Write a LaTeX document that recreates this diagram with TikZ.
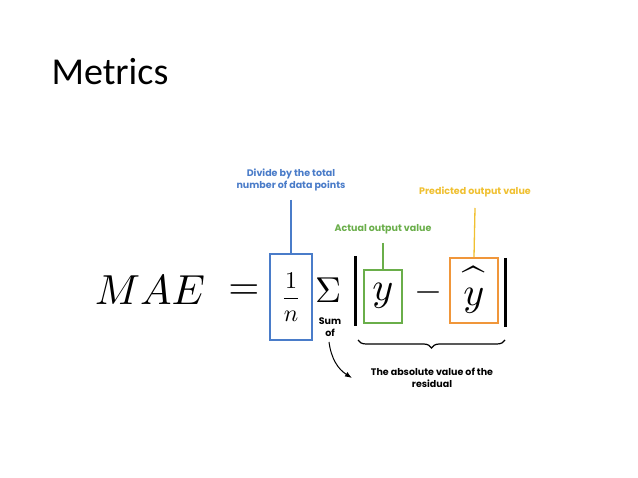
\documentclass[tikz,border=0pt]{standalone}
\usepackage{graphicx}
\usepackage{fontspec}
\setmainfont{Carlito}
\newfontfamily\lab{Poppins}
\usetikzlibrary{decorations.pathreplacing,arrows.meta}
\definecolor{cblue}{HTML}{4A7CC9}
\definecolor{cgreen}{HTML}{6AAE4A}
\definecolor{cyel}{HTML}{F0C030}
\definecolor{corg}{HTML}{F0963A}
\begin{document}
\begin{tikzpicture}[x=1pt,y=-1pt,
  lbl/.style={font=\lab\fontsize{9.5}{12.5}\selectfont\bfseries,align=center},
  bx/.style={draw,line width=1.6pt},
  ln/.style={line width=1.3pt}]
\useasboundingbox[fill=white] (0,0) rectangle (638,478);
\node[anchor=base west,font=\fontsize{38}{42}\selectfont] (title) at (48,85) {Metrics};
\node (mae) at (150,290) {\scalebox{4.2}{$MAE$}};
\node (eq) at (244,292) {\scalebox{4}{$=$}};
\node[bx,cblue,minimum width=42,minimum height=86] (b1) at (291,297) {};
\node at (291,297) {\scalebox{2.4}{$\displaystyle\frac{1}{n}$}};
\node (sig) at (328,290) {\scalebox{3.6}{$\Sigma$}};
\draw[line width=3pt] (355,256) -- (355,326);
\draw[line width=3pt] (505,258) -- (505,327);
\node[bx,cgreen,minimum width=38,minimum height=53] (b2) at (383,296.5) {};
\node at (383,296) {\scalebox{4}{$y$}};
\node (minus) at (428,293) {\scalebox{3.6}{$-$}};
\node[bx,corg,minimum width=48,minimum height=65] (b3) at (474,290.5) {};
\node at (474,290) {\scalebox{4}{$\widehat{\vphantom{b}y}$}};
\node[lbl,text=cblue] (t1) at (291,180) {Divide by the total\\number of data points};
\node[lbl,text=cgreen] (t2) at (383,229) {Actual output value};
\node[lbl,text=cyel] (t3) at (475,192) {Predicted output value};
\draw[ln,cblue] (291,200) -- (b1.north);
\draw[ln,cgreen] (383,243) -- (b2.north);
\draw[ln,cyel] (475,208) -- (b3.north);
\node[lbl,text=black] (sum) at (330,327) {Sum\\of};
\node[lbl,text=black] (abs) at (432,378) {The absolute value of the\\residual};
\draw[line width=1pt,-{Latex[length=7pt]}] (329,342) to[bend right=25] (352,378);
\draw[line width=1.2pt,decorate,decoration={brace,mirror,amplitude=8pt}] (358,340) -- (505,340);
\end{tikzpicture}
\end{document}
